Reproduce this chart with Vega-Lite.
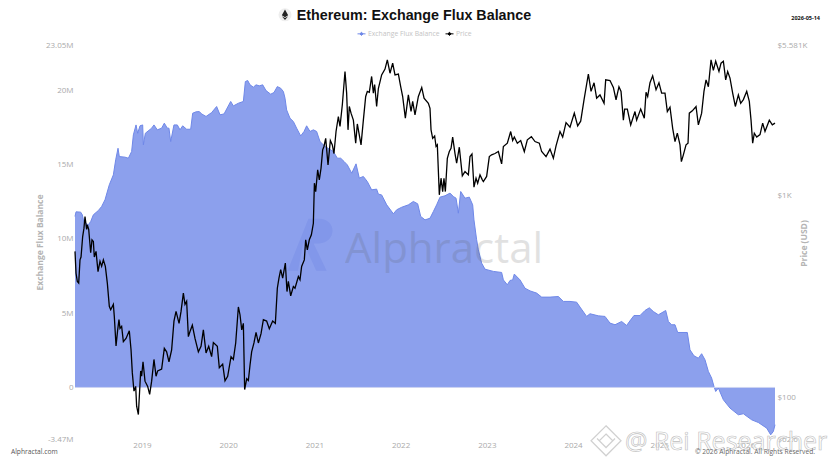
{
  "$schema": "https://vega.github.io/schema/vega-lite/v6.json",
  "width": 700,
  "height": 394,
  "autosize": {"type": "none"},
  "padding": {"left": 75, "top": 45, "right": 53, "bottom": 27},
  "background": "white",
  "config": {"view": {"stroke": null}, "font": "Open Sans"},
  "title": {
    "text": "Ethereum: Exchange Flux Balance",
    "anchor": "middle",
    "frame": "group",
    "dx": -11,
    "offset": -15,
    "font": "Liberation Sans",
    "fontSize": 14.3,
    "fontWeight": "bold",
    "color": "#111111"
  },
  "datasets": {
    "flux": [
      {"t":2018.223,"flux":11.51},{"t":2018.235,"flux":11.82},{"t":2018.289,"flux":11.80},{"t":2018.308,"flux":11.62},{"t":2018.327,"flux":11.10},{"t":2018.378,"flux":10.95},{"t":2018.405,"flux":11.17},{"t":2018.436,"flux":11.62},{"t":2018.494,"flux":11.91},{"t":2018.532,"flux":12.18},{"t":2018.571,"flux":12.63},{"t":2018.621,"flux":13.64},{"t":2018.668,"flux":14.31},{"t":2018.695,"flux":15.32},{"t":2018.722,"flux":16.10},{"t":2018.737,"flux":15.54},{"t":2018.803,"flux":15.50},{"t":2018.842,"flux":15.43},{"t":2018.880,"flux":15.88},{"t":2018.900,"flux":17.00},{"t":2018.931,"flux":17.67},{"t":2018.950,"flux":17.11},{"t":2018.977,"flux":17.61},{"t":2019.008,"flux":17.67},{"t":2019.016,"flux":16.33},{"t":2019.039,"flux":17.11},{"t":2019.112,"flux":17.45},{"t":2019.139,"flux":17.67},{"t":2019.178,"flux":17.34},{"t":2019.228,"flux":17.45},{"t":2019.259,"flux":17.79},{"t":2019.294,"flux":17.45},{"t":2019.313,"flux":17.45},{"t":2019.333,"flux":16.55},{"t":2019.371,"flux":17.67},{"t":2019.410,"flux":17.67},{"t":2019.441,"flux":17.34},{"t":2019.472,"flux":17.61},{"t":2019.518,"flux":17.38},{"t":2019.565,"flux":17.38},{"t":2019.588,"flux":18.46},{"t":2019.627,"flux":18.55},{"t":2019.665,"flux":18.57},{"t":2019.692,"flux":18.41},{"t":2019.743,"flux":18.24},{"t":2019.808,"flux":18.50},{"t":2019.866,"flux":18.91},{"t":2019.905,"flux":18.35},{"t":2019.952,"flux":18.41},{"t":2020.029,"flux":19.25},{"t":2020.060,"flux":18.95},{"t":2020.118,"flux":19.13},{"t":2020.176,"flux":19.25},{"t":2020.199,"flux":20.59},{"t":2020.226,"flux":20.66},
      {"t":2020.253,"flux":20.37},{"t":2020.292,"flux":20.21},{"t":2020.323,"flux":20.37},{"t":2020.361,"flux":20.30},{"t":2020.400,"flux":20.37},{"t":2020.439,"flux":19.98},{"t":2020.493,"flux":19.74},{"t":2020.531,"flux":19.85},{"t":2020.570,"flux":20.25},{"t":2020.609,"flux":20.14},{"t":2020.640,"flux":19.92},{"t":2020.659,"flux":19.47},{"t":2020.678,"flux":18.68},{"t":2020.717,"flux":18.12},{"t":2020.756,"flux":17.90},{"t":2020.794,"flux":17.45},{"t":2020.841,"flux":16.93},{"t":2020.880,"flux":17.23},{"t":2020.910,"flux":17.61},{"t":2020.949,"flux":17.23},{"t":2020.988,"flux":17.34},{"t":2021.026,"flux":17.23},{"t":2021.065,"flux":16.55},{"t":2021.123,"flux":16.22},{"t":2021.220,"flux":15.88},{"t":2021.266,"flux":15.43},{"t":2021.305,"flux":15.43},{"t":2021.344,"flux":15.21},{"t":2021.382,"flux":14.98},{"t":2021.433,"flux":14.42},{"t":2021.483,"flux":15.05},{"t":2021.521,"flux":14.09},{"t":2021.568,"flux":14.20},{"t":2021.614,"flux":13.86},{"t":2021.664,"flux":13.30},{"t":2021.722,"flux":13.35},{"t":2021.742,"flux":13.01},{"t":2021.780,"flux":12.96},{"t":2021.839,"flux":12.29},{"t":2021.916,"flux":11.69},{"t":2021.955,"flux":11.96},{"t":2022.013,"flux":12.13},{"t":2022.090,"flux":12.29},{"t":2022.148,"flux":12.52},{"t":2022.198,"flux":12.36},{"t":2022.233,"flux":11.51},{"t":2022.283,"flux":11.28},{"t":2022.341,"flux":11.39},
      {"t":2022.380,"flux":11.84},{"t":2022.418,"flux":12.29},{"t":2022.457,"flux":12.81},{"t":2022.515,"flux":12.90},{"t":2022.573,"flux":13.08},{"t":2022.612,"flux":12.85},{"t":2022.643,"flux":12.74},{"t":2022.670,"flux":11.73},{"t":2022.697,"flux":13.19},{"t":2022.747,"flux":12.74},{"t":2022.797,"flux":12.81},{"t":2022.836,"flux":12.29},{"t":2022.851,"flux":11.28},{"t":2022.882,"flux":9.94},{"t":2022.902,"flux":9.26},{"t":2022.940,"flux":8.37},{"t":2022.979,"flux":7.96},{"t":2023.076,"flux":7.81},{"t":2023.172,"flux":7.74},{"t":2023.192,"flux":7.24},{"t":2023.238,"flux":6.91},{"t":2023.269,"flux":7.20},{"t":2023.300,"flux":7.24},{"t":2023.319,"flux":7.63},{"t":2023.385,"flux":7.24},{"t":2023.443,"flux":6.68},{"t":2023.501,"flux":6.50},{"t":2023.578,"flux":6.35},{"t":2023.636,"flux":6.08},{"t":2023.733,"flux":6.08},{"t":2023.830,"flux":6.12},{"t":2023.888,"flux":5.79},{"t":2023.965,"flux":5.79},{"t":2024.042,"flux":5.74},{"t":2024.081,"flux":5.41},{"t":2024.158,"flux":4.78},{"t":2024.197,"flux":4.96},{"t":2024.294,"flux":4.82},{"t":2024.371,"flux":4.78},
      {"t":2024.429,"flux":4.33},{"t":2024.487,"flux":4.22},{"t":2024.564,"flux":4.44},{"t":2024.622,"flux":4.17},{"t":2024.669,"flux":4.55},{"t":2024.707,"flux":4.84},{"t":2024.777,"flux":4.84},{"t":2024.835,"flux":5.18},{"t":2024.885,"flux":5.36},{"t":2024.932,"flux":5.11},{"t":2024.990,"flux":4.89},{"t":2025.075,"flux":5.18},{"t":2025.106,"flux":4.44},{"t":2025.144,"flux":4.22},{"t":2025.183,"flux":4.22},{"t":2025.214,"flux":3.70},{"t":2025.326,"flux":3.70},{"t":2025.357,"flux":2.53},{"t":2025.403,"flux":2.13},{"t":2025.454,"flux":1.97},{"t":2025.492,"flux":2.27},{"t":2025.531,"flux":1.86},{"t":2025.570,"flux":1.08},{"t":2025.608,"flux":0.63},{"t":2025.635,"flux":0.07},{"t":2025.655,"flux":-0.27},{"t":2025.686,"flux":-0.04},{"t":2025.744,"flux":-0.83},{"t":2025.821,"flux":-1.39},{"t":2025.918,"flux":-1.84},{"t":2025.976,"flux":-1.77},{"t":2026.073,"flux":-2.18},{"t":2026.150,"flux":-2.36},{"t":2026.247,"flux":-2.74},{"t":2026.293,"flux":-3.19},{"t":2026.324,"flux":-2.96},{"t":2026.343,"flux":-2.51}
    ],
    "price": [
      {"t":2018.223,"price":531},{"t":2018.235,"price":414},{"t":2018.250,"price":377},{"t":2018.266,"price":370},{"t":2018.281,"price":482},{"t":2018.293,"price":498},{"t":2018.312,"price":629},{"t":2018.327,"price":692},{"t":2018.339,"price":790},{"t":2018.358,"price":682},{"t":2018.366,"price":718},{"t":2018.382,"price":682},{"t":2018.405,"price":523},{"t":2018.420,"price":606},{"t":2018.436,"price":595},{"t":2018.447,"price":498},{"t":2018.467,"price":531},{"t":2018.490,"price":422},{"t":2018.513,"price":474},{"t":2018.532,"price":448},{"t":2018.552,"price":482},{"t":2018.575,"price":448},{"t":2018.598,"price":370},{"t":2018.621,"price":284},{"t":2018.637,"price":273},{"t":2018.668,"price":290},{"t":2018.679,"price":253},{"t":2018.699,"price":181},{"t":2018.718,"price":217},{"t":2018.733,"price":244},{"t":2018.745,"price":221},{"t":2018.764,"price":226},{"t":2018.784,"price":190},{"t":2018.815,"price":197},{"t":2018.853,"price":215},{"t":2018.873,"price":173},{"t":2018.888,"price":133},{"t":2018.907,"price":108},{"t":2018.927,"price":114},{"t":2018.938,"price":91},{"t":2018.958,"price":82.7},{"t":2018.985,"price":136},{"t":2018.996,"price":128},{"t":2019.012,"price":151},{"t":2019.035,"price":121},{"t":2019.066,"price":114},{"t":2019.089,"price":104},{"t":2019.112,"price":121},{"t":2019.139,"price":155},{"t":2019.163,"price":128},{"t":2019.182,"price":136},{"t":2019.228,"price":139},{"t":2019.259,"price":176},{"t":2019.286,"price":169},{"t":2019.313,"price":151},{"t":2019.344,"price":173},{"t":2019.371,"price":240},{"t":2019.395,"price":268},{"t":2019.430,"price":234},{"t":2019.453,"price":268},{"t":2019.480,"price":330},{"t":2019.499,"price":290},{"t":2019.518,"price":301},{"t":2019.538,"price":201},{"t":2019.557,"price":213},{"t":2019.584,"price":229},{"t":2019.615,"price":197},{"t":2019.654,"price":169},{"t":2019.685,"price":180},{"t":2019.712,"price":217},{"t":2019.743,"price":167},{"t":2019.774,"price":180},{"t":2019.808,"price":160},{"t":2019.828,"price":188},{"t":2019.874,"price":180},{"t":2019.897,"price":141},{"t":2019.936,"price":147},{"t":2019.963,"price":121.5},{"t":2019.994,"price":128},{"t":2020.033,"price":160},{"t":2020.060,"price":155},{"t":2020.087,"price":187},{"t":2020.118,"price":282},{"t":2020.137,"price":258},{"t":2020.157,"price":217},{"t":2020.176,"price":234},{"t":2020.191,"price":110},{"t":2020.215,"price":124.5},{"t":2020.234,"price":122},
      {"t":2020.253,"price":145},{"t":2020.272,"price":169},{"t":2020.299,"price":187},{"t":2020.323,"price":211},{"t":2020.350,"price":187},{"t":2020.381,"price":208},{"t":2020.408,"price":244},{"t":2020.446,"price":240},{"t":2020.477,"price":220},{"t":2020.516,"price":240},{"t":2020.547,"price":234},{"t":2020.570,"price":349},{"t":2020.589,"price":392},{"t":2020.609,"price":431},{"t":2020.632,"price":392},{"t":2020.663,"price":465},{"t":2020.682,"price":336},{"t":2020.698,"price":377},{"t":2020.725,"price":320},{"t":2020.756,"price":356},{"t":2020.775,"price":349},{"t":2020.814,"price":399},{"t":2020.833,"price":384},{"t":2020.852,"price":447},{"t":2020.883,"price":482},{"t":2020.899,"price":606},{"t":2020.918,"price":540},{"t":2020.941,"price":606},{"t":2020.965,"price":642},{"t":2020.988,"price":732},{"t":2021.000,"price":1155},{"t":2021.015,"price":1050},{"t":2021.038,"price":1344},{"t":2021.057,"price":1200},{"t":2021.077,"price":1370},{"t":2021.096,"price":1690},{"t":2021.111,"price":1755},{"t":2021.131,"price":1925},{"t":2021.158,"price":1423},{"t":2021.185,"price":1880},{"t":2021.208,"price":1788},{"t":2021.227,"price":1620},{"t":2021.251,"price":2082},{"t":2021.278,"price":2470},{"t":2021.297,"price":2205},{"t":2021.324,"price":2826},{"t":2021.355,"price":4128},{"t":2021.374,"price":3224},{"t":2021.390,"price":2122},{"t":2021.405,"price":2770},{"t":2021.425,"price":2566},{"t":2021.452,"price":2370},{"t":2021.479,"price":1823},{"t":2021.498,"price":2270},{"t":2021.541,"price":1788},{"t":2021.568,"price":2370},{"t":2021.595,"price":3103},{"t":2021.614,"price":3290},{"t":2021.637,"price":3253},{"t":2021.664,"price":3900},{"t":2021.684,"price":3224},{"t":2021.699,"price":3558},{"t":2021.722,"price":2770},{"t":2021.742,"price":3400},{"t":2021.780,"price":3970},{"t":2021.819,"price":4240},{"t":2021.846,"price":4711},{"t":2021.877,"price":4046},{"t":2021.908,"price":4537},{"t":2021.935,"price":3970},{"t":2021.974,"price":4010},{"t":2022.001,"price":3470},{"t":2022.024,"price":3103},{"t":2022.055,"price":2425},{"t":2022.090,"price":3160},{"t":2022.121,"price":2615},{"t":2022.140,"price":2936},{"t":2022.167,"price":2518},{"t":2022.206,"price":3103},{"t":2022.245,"price":3440},{"t":2022.272,"price":3045},{"t":2022.322,"price":2873},{"t":2022.341,"price":2710},
      {"t":2022.353,"price":2122},{"t":2022.372,"price":1926},{"t":2022.395,"price":1979},{"t":2022.411,"price":1755},{"t":2022.426,"price":1788},{"t":2022.449,"price":1012},{"t":2022.469,"price":1223},{"t":2022.488,"price":1050},{"t":2022.503,"price":1223},{"t":2022.519,"price":1050},{"t":2022.542,"price":1535},{"t":2022.565,"price":1657},{"t":2022.585,"price":1720},{"t":2022.604,"price":1955},{"t":2022.631,"price":1620},{"t":2022.650,"price":1450},{"t":2022.681,"price":1741},{"t":2022.716,"price":1256},{"t":2022.747,"price":1318},{"t":2022.786,"price":1270},{"t":2022.805,"price":1565},{"t":2022.828,"price":1610},{"t":2022.851,"price":1104},{"t":2022.875,"price":1223},{"t":2022.894,"price":1155},{"t":2022.921,"price":1270},{"t":2022.948,"price":1200},{"t":2022.960,"price":1178},{"t":2022.998,"price":1248},{"t":2023.029,"price":1565},{"t":2023.056,"price":1596},{"t":2023.095,"price":1620},{"t":2023.134,"price":1657},{"t":2023.172,"price":1440},{"t":2023.192,"price":1755},{"t":2023.238,"price":1823},{"t":2023.277,"price":2082},{"t":2023.300,"price":1880},{"t":2023.319,"price":1955},{"t":2023.354,"price":1823},{"t":2023.393,"price":1880},{"t":2023.435,"price":1657},{"t":2023.470,"price":1895},{"t":2023.517,"price":1962},{"t":2023.559,"price":1857},{"t":2023.609,"price":1823},{"t":2023.636,"price":1657},{"t":2023.687,"price":1565},{"t":2023.733,"price":1703},{"t":2023.772,"price":1535},{"t":2023.803,"price":1768},{"t":2023.849,"price":2082},{"t":2023.880,"price":1955},{"t":2023.919,"price":2305},{"t":2023.965,"price":2187},{"t":2024.015,"price":2566},{"t":2024.054,"price":2220},{"t":2024.089,"price":2342},{"t":2024.128,"price":2995},{"t":2024.178,"price":4010},{"t":2024.209,"price":3290},{"t":2024.244,"price":3630},{"t":2024.274,"price":3045},{"t":2024.313,"price":3160},{"t":2024.360,"price":2873},{"t":2024.379,"price":3752},{"t":2024.429,"price":3722},
      {"t":2024.468,"price":3440},{"t":2024.499,"price":2990},{"t":2024.533,"price":3470},{"t":2024.557,"price":3290},{"t":2024.584,"price":2370},{"t":2024.599,"price":2688},{"t":2024.630,"price":2688},{"t":2024.669,"price":2245},{"t":2024.719,"price":2615},{"t":2024.738,"price":2370},{"t":2024.785,"price":2688},{"t":2024.827,"price":2425},{"t":2024.847,"price":3253},{"t":2024.866,"price":3103},{"t":2024.893,"price":3630},{"t":2024.924,"price":3926},{"t":2024.963,"price":3350},{"t":2024.997,"price":3630},{"t":2025.028,"price":3224},{"t":2025.067,"price":3224},{"t":2025.094,"price":2615},{"t":2025.125,"price":2750},{"t":2025.156,"price":2160},{"t":2025.183,"price":1857},{"t":2025.210,"price":2042},{"t":2025.241,"price":1788},{"t":2025.257,"price":1478},{"t":2025.280,"price":1596},{"t":2025.311,"price":1788},{"t":2025.334,"price":1823},{"t":2025.349,"price":2566},{"t":2025.384,"price":2634},{"t":2025.427,"price":2770},{"t":2025.454,"price":2245},{"t":2025.492,"price":2566},{"t":2025.519,"price":3290},{"t":2025.543,"price":3752},{"t":2025.570,"price":3470},{"t":2025.601,"price":4711},{"t":2025.628,"price":4180},{"t":2025.655,"price":4640},{"t":2025.693,"price":4128},{"t":2025.717,"price":4537},{"t":2025.744,"price":4640},{"t":2025.771,"price":3752},{"t":2025.794,"price":4128},{"t":2025.821,"price":3825},{"t":2025.852,"price":3224},{"t":2025.883,"price":2770},{"t":2025.918,"price":3160},{"t":2025.945,"price":2873},{"t":2025.976,"price":2995},{"t":2026.015,"price":3290},{"t":2026.045,"price":2936},{"t":2026.065,"price":2370},{"t":2026.084,"price":1823},{"t":2026.103,"price":2042},{"t":2026.131,"price":1955},{"t":2026.169,"price":2009},{"t":2026.200,"price":2290},{"t":2026.227,"price":2082},{"t":2026.277,"price":2370},{"t":2026.312,"price":2245},{"t":2026.343,"price":2290}
    ]
  },
  "encoding": {
    "x": {
      "field": "t",
      "type": "quantitative",
      "title": null,
      "scale": {"domain": [2018.223, 2026.343], "nice": false, "zero": false},
      "axis": {
        "values": [2019, 2020, 2021, 2022, 2023, 2024, 2025, 2026],
        "format": "d",
        "grid": false,
        "domain": false,
        "ticks": false,
        "labelPadding": 2,
        "labelFontSize": 8,
        "labelColor": "#aaaaaa"
      }
    }
  },
  "layer": [
    {
      "data": {"name": "flux"},
      "mark": {"type": "area", "fillOpacity": 0.8, "line": {"strokeWidth": 1}},
      "encoding": {
        "y": {
          "field": "flux",
          "type": "quantitative",
          "scale": {"domain": [-3.47, 23.05], "nice": false},
          "axis": {
            "title": "Exchange Flux Balance",
            "titleX": -31,
            "titleY": 197,
            "titleFontSize": 8.5,
            "titleFontWeight": "bold",
            "titleColor": "#b4b4b4",
            "values": [-3.47, 0, 5, 10, 15, 20, 23.05],
            "labelExpr": "datum.value === 0 ? '0' : datum.value + 'M'",
            "grid": false,
            "domain": false,
            "ticks": false,
            "labelPadding": 2,
            "labelFontSize": 8,
            "labelColor": "#aaaaaa"
          }
        },
        "color": {
          "datum": "Exchange Flux Balance",
          "scale": {"domain": ["Exchange Flux Balance", "Price"], "range": ["#6f88e8", "#000000"]},
          "legend": {
            "title": null,
            "orient": "none",
            "legendX": 282,
            "legendY": -16,
            "direction": "horizontal",
            "columns": 2,
            "symbolType": "M-1,0H-0.4L0,-0.4L0.4,0H1M0.4,0L0,0.4L-0.4,0Z",
            "symbolSize": 64,
            "symbolStrokeWidth": 1,
            "labelFontSize": 6.8,
            "labelColor": "#c4c4c4",
            "labelOffset": 2,
            "columnPadding": 3
          }
        }
      }
    },
    {
      "data": {"values": [{"t": 2020.961, "flux": 9.6}]},
      "mark": {"type": "point", "filled": true, "size": 2700, "color": "#5f78de", "opacity": 0.22, "shape": "M-0.9,1L-0.1,-1L0.3,-1C1,-1 1,-0.1 0.3,-0.05L0.1,-0.05L0.6,1L0.2,1L-0.3,-0.1L-0.5,1Z"},
      "encoding": {"y": {"field": "flux", "type": "quantitative", "scale": {"domain": [-3.47, 23.05]}, "axis": null}}
    },
    {
      "data": {"values": [{"y": 0}]},
      "mark": {"type": "rule", "color": "#ccd4f2", "strokeWidth": 1},
      "encoding": {
        "x": {"value": 0},
        "x2": {"value": 700},
        "y": {"field": "y", "type": "quantitative", "scale": {"domain": [-3.47, 23.05]}, "axis": null}
      }
    },
    {
      "data": {"values": [{"t": 2021.355, "flux": 8.39, "label": "Alphractal"}]},
      "mark": {"type": "text", "align": "left", "baseline": "alphabetic", "fontSize": 42, "color": "#555555", "opacity": 0.17},
      "encoding": {
        "y": {"field": "flux", "type": "quantitative", "scale": {"domain": [-3.47, 23.05]}, "axis": null},
        "text": {"field": "label"}
      }
    },
    {
      "data": {"name": "price"},
      "mark": {"type": "line", "strokeWidth": 1.3},
      "encoding": {
        "y": {
          "field": "price",
          "type": "quantitative",
          "scale": {"type": "log", "domain": [62.6, 5581], "nice": false},
          "axis": {
            "orient": "right",
            "title": "Price (USD)",
            "titleAngle": 270,
            "titleX": 33,
            "titleY": 198,
            "titleFontSize": 8.5,
            "titleFontWeight": "bold",
            "titleColor": "#b4b4b4",
            "values": [62.6, 100, 1000, 5581],
            "labelExpr": "datum.value >= 1000 ? '$' + datum.value / 1000 + 'K' : '$' + datum.value",
            "grid": false,
            "domain": false,
            "ticks": false,
            "labelPadding": 2,
            "labelFontSize": 8,
            "labelColor": "#aaaaaa"
          }
        },
        "color": {"datum": "Price"}
      }
    },
    {
      "data": {"values": [{"t": 2024.383, "flux": -3.59}]},
      "mark": {"type": "point", "filled": false, "size": 900, "color": "#cccccc", "strokeWidth": 1.2, "opacity": 0.9, "shape": "M0,-1L1,0L0,1L-1,0ZM0,-0.45L0.45,0L0,0.45L-0.45,0ZM-0.6,-0.15L-0.25,0.2M0.6,-0.15L0.25,0.2"},
      "encoding": {"y": {"field": "flux", "type": "quantitative", "scale": {"domain": [-3.47, 23.05]}, "axis": null}}
    },
    {
      "data": {"values": [{"t": 2024.603, "flux": -4.19, "label": "@ Rei Researcher"}]},
      "mark": {"type": "text", "align": "left", "baseline": "alphabetic", "fontSize": 25, "color": "#ffffff", "fillOpacity": 0.7, "stroke": "#bdbdbd", "strokeWidth": 0.6},
      "encoding": {
        "y": {"field": "flux", "type": "quantitative", "scale": {"domain": [-3.47, 23.05]}, "axis": null},
        "text": {"field": "label"}
      }
    },
    {
      "data": {"values": [{"t": 2017.48, "flux": -4.33, "label": "Alphractal.com"}]},
      "mark": {"type": "text", "align": "left", "baseline": "middle", "fontSize": 6.7, "color": "#555555"},
      "encoding": {
        "y": {"field": "flux", "type": "quantitative", "scale": {"domain": [-3.47, 23.05]}, "axis": null},
        "text": {"field": "label"}
      }
    },
    {
      "data": {"values": [{"t": 2026.807, "flux": -4.33, "label": "© 2026 Alphractal. All Rights Reserved."}]},
      "mark": {"type": "text", "align": "right", "baseline": "middle", "fontSize": 6.7, "color": "#666666"},
      "encoding": {
        "y": {"field": "flux", "type": "quantitative", "scale": {"domain": [-3.47, 23.05]}, "axis": null},
        "text": {"field": "label"}
      }
    },
    {
      "data": {"values": [{"t": 2026.865, "flux": 24.88, "label": "2026-05-14"}]},
      "mark": {"type": "text", "align": "right", "baseline": "middle", "fontSize": 5.5, "fontWeight": "bold", "color": "#111111"},
      "encoding": {
        "y": {"field": "flux", "type": "quantitative", "scale": {"domain": [-3.47, 23.05]}, "axis": null},
        "text": {"field": "label"}
      }
    },
    {
      "data": {"values": [{"t": 2020.659, "flux": 25.08}]},
      "mark": {"type": "point", "filled": true, "shape": "circle", "size": 170, "color": "#eeeeee", "opacity": 1},
      "encoding": {"y": {"field": "flux", "type": "quantitative", "scale": {"domain": [-3.47, 23.05]}, "axis": null}}
    },
    {
      "data": {"values": [{"t": 2020.659, "flux": 25.08}]},
      "mark": {"type": "point", "filled": true, "size": 110, "color": "#222222", "opacity": 1, "shape": "M0,-1L0.6,0.1L0,0.45L-0.6,0.1ZM0,0.6L0.6,0.25L0,1L-0.6,0.25Z"},
      "encoding": {"y": {"field": "flux", "type": "quantitative", "scale": {"domain": [-3.47, 23.05]}, "axis": null}}
    }
  ],
  "resolve": {"scale": {"y": "independent"}, "axis": {"y": "independent"}}
}
